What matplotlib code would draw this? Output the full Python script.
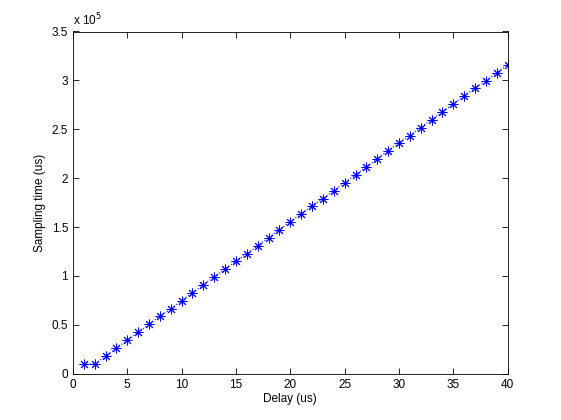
import numpy as np
import matplotlib
matplotlib.use("Agg")
import matplotlib.pyplot as plt
from matplotlib.ticker import FuncFormatter, MultipleLocator

plt.rcParams['font.family'] = ['Liberation Sans', 'DejaVu Sans']

delay = np.arange(1, 41)
samp = np.array([0.10, 0.10, 0.18, 0.263, 0.341, 0.427, 0.505, 0.59, 0.662, 0.747,
                 0.829, 0.908, 0.99, 1.072, 1.153, 1.225, 1.31, 1.392, 1.474, 1.556,
                 1.635, 1.716, 1.791, 1.873, 1.955, 2.037, 2.116, 2.198, 2.282, 2.36,
                 2.436, 2.518, 2.60, 2.679, 2.76, 2.842, 2.924, 2.996, 3.078, 3.16]) * 1e5

fig = plt.figure(figsize=(5.61, 4.2), dpi=100)
ax = fig.add_axes([0.13, 0.11, 0.775, 0.815])
ax.plot(delay, samp, ':', color=(0, 0, 1), marker=(8, 2, 0), markersize=7,
        markeredgewidth=0.7, linewidth=0.8)

ax.set_xlim(0, 40)
ax.set_ylim(0, 3.5e5)
ax.xaxis.set_major_locator(MultipleLocator(5))
ax.yaxis.set_major_locator(MultipleLocator(0.5e5))
ax.yaxis.set_major_formatter(FuncFormatter(lambda v, p: '%g' % (v / 1e5)))
ax.tick_params(direction='in', top=True, right=True, labelsize=8.5, length=4, width=0.6)
for s in ax.spines.values():
    s.set_linewidth(0.6)

ax.set_xlabel('Delay (us)', fontsize=8.5, labelpad=2)
ax.set_ylabel('Sampling time (us)', fontsize=8.5, labelpad=4)
ax.text(0.0, 1.008, r'x 10$^5$', transform=ax.transAxes, fontsize=8.5, va='bottom', ha='left')

fig.savefig('out.png', dpi=100)
